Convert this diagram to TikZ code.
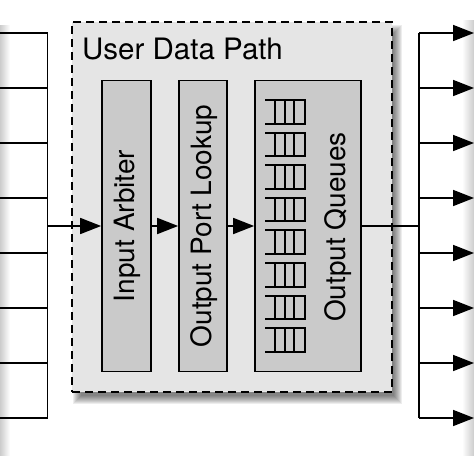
\documentclass[tikz,border=0pt]{standalone}
\usepackage{fontspec}
\setmainfont{TeX Gyre Heros}
\usetikzlibrary{arrows.meta}
\definecolor{pathgray}{RGB}{229,229,229}
\definecolor{blockgray}{RGB}{202,202,202}
\tikzset{
  wire/.style={line width=1.7pt},
  flow/.style={wire, -{Triangle[length=21pt,width=16pt]}},
  block/.style={draw, line width=1.7pt, fill=blockgray, minimum width=49pt, minimum height=291pt, inner sep=0pt},
  blocklabel/.style={rotate=90, anchor=base, inner sep=0pt, font=\fontsize{28}{30}\selectfont},
}

\begin{document}
\begin{tikzpicture}[x=1pt, y=-1pt]
\useasboundingbox (0,0) rectangle (474,474);
% shadows at the edges
\shade[left color=black!20, right color=white] (0,25) rectangle (10,455);
\shade[left color=white, right color=black!20] (462,20) rectangle (474,455);

% shadow of the data path box
\foreach \k in {1,...,9}
  \fill[black, opacity=0.07] (82-\k,34-\k) rectangle (393+\k,395+\k);

\node[draw, dash pattern=on 8pt off 5pt, line width=1.7pt, fill=pathgray, minimum width=320pt, minimum height=370pt, inner sep=0pt] (udp) at (232,207) {};
\node[anchor=base west, inner sep=0pt, font=\fontsize{29.5}{32}\selectfont] (title) at (82,59.5) {User Data Path};

\node[block] (arb) at (126.5,226) {};
\node[block, minimum width=48pt] (lookup) at (203,226) {};
\node[block, minimum width=106pt] (oq) at (308,226) {};

\node[blocklabel] (arbtext) at (134.5,226) {Input Arbiter};
\node[blocklabel] (lookuptext) at (211,226) {Output Port Lookup};
\node[blocklabel] (oqtext) at (345,227) {Output Queues};

% queues
\foreach \i in {0,...,7} {
  \pgfmathsetmacro\qtop{100+32.6*\i}
  \pgfmathsetmacro\qbot{\qtop+23.5}
  \draw[wire, line width=2pt] (265,\qtop) -- (306,\qtop) (265,\qbot) -- (306,\qbot);
  \foreach \x in {275,285,294,305}
    \draw[wire, line width=2pt] (\x,\qtop) -- (\x,\qbot);
}

% inputs
\foreach \i in {0,...,7} {
  \coordinate (in\i) at (0,33+55*\i);
  \coordinate (inj\i) at (47.5,33+55*\i);
  \draw[wire] (in\i) -- (inj\i);
}
\draw[wire] (inj0) -- (inj7);
\coordinate (inmerge) at (47.5,226);
\draw[flow] (inmerge) -- (arb.west);
\draw[flow] (arb.east) -- (lookup.west);
\draw[flow] (lookup.east) -- (oq.west);

% outputs
\coordinate (outsplit) at (419,226);
\draw[wire] (oq.east) -- (outsplit);
\foreach \i in {0,...,7} {
  \coordinate (outj\i) at (419,33+55*\i);
  \coordinate (out\i) at (474,33+55*\i);
  \draw[flow] (outj\i) -- (out\i);
}
\draw[wire] (outj0) -- (outj7);
\end{tikzpicture}
\end{document}
